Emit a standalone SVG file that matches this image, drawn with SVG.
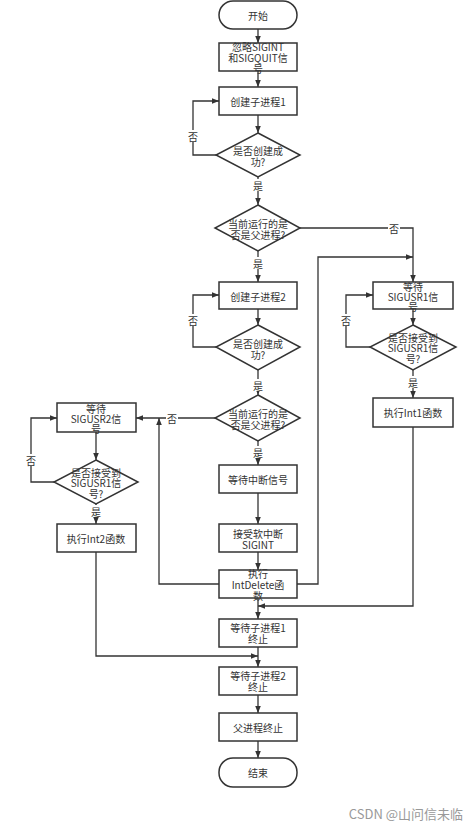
<svg xmlns="http://www.w3.org/2000/svg" width="474" height="827" viewBox="0 0 474 827">
<style>
.b{fill:#fff;stroke:#333;stroke-width:1.5}
.t{font-family:"Noto Sans CJK SC","Noto Sans",sans-serif;font-size:10px;fill:#333;text-anchor:middle;dominant-baseline:central}
.c{fill:none;stroke:#333;stroke-width:1.3}
.lb{fill:#fff}
</style>
<defs>
<marker id="ah" viewBox="0 0 10 10" refX="10" refY="5" markerWidth="7" markerHeight="7" orient="auto" markerUnits="userSpaceOnUse"><path d="M0,1 L10,5 L0,9 z" fill="#333"/></marker>
</defs>
<rect width="474" height="827" fill="#fff"/>
<g id="connectors">
<path class="c" d="M258,29 V43" marker-end="url(#ah)"/>
<path class="c" d="M258,71 V87" marker-end="url(#ah)"/>
<path class="c" d="M258,115 V133" marker-end="url(#ah)"/>
<path class="c" d="M216,155 H193 V101 H219" marker-end="url(#ah)"/>
<path class="c" d="M258,177 V205" marker-end="url(#ah)"/>
<path class="c" d="M300,228 H413 V282" marker-end="url(#ah)"/>
<path class="c" d="M258,251 V282" marker-end="url(#ah)"/>
<path class="c" d="M258,309 V325" marker-end="url(#ah)"/>
<path class="c" d="M216,347 H193 V295 H219" marker-end="url(#ah)"/>
<path class="c" d="M258,370 V395" marker-end="url(#ah)"/>
<path class="c" d="M215,418 H136" marker-end="url(#ah)"/>
<path class="c" d="M258,441 V465" marker-end="url(#ah)"/>
<path class="c" d="M258,493 V524" marker-end="url(#ah)"/>
<path class="c" d="M258,552 V570" marker-end="url(#ah)"/>
<path class="c" d="M219,584 H159 V418" marker-end="url(#ah)"/>
<path class="c" d="M297,584 H318 V257 H413" marker-end="url(#ah)"/>
<path class="c" d="M258,598 V619" marker-end="url(#ah)"/>
<path class="c" d="M258,647 V667" marker-end="url(#ah)"/>
<path class="c" d="M258,695 V713" marker-end="url(#ah)"/>
<path class="c" d="M258,741 V758" marker-end="url(#ah)"/>
<path class="c" d="M413,309 V325" marker-end="url(#ah)"/>
<path class="c" d="M370,347 H346 V295 H373" marker-end="url(#ah)"/>
<path class="c" d="M413,370 V398" marker-end="url(#ah)"/>
<path class="c" d="M413,427 V606 H258" marker-end="url(#ah)"/>
<path class="c" d="M96,432 V460" marker-end="url(#ah)"/>
<path class="c" d="M54,482 H31 V418 H57" marker-end="url(#ah)"/>
<path class="c" d="M96,504 V524" marker-end="url(#ah)"/>
<path class="c" d="M96,552 V656 H258" marker-end="url(#ah)"/>
<g id="labels">
<rect class="lb" x="187" y="130" width="12" height="12"/><text class="t" x="193" y="136">否</text>
<rect class="lb" x="252" y="179" width="12" height="12"/><text class="t" x="258" y="185">是</text>
<rect class="lb" x="388" y="222" width="12" height="12"/><text class="t" x="394" y="228">否</text>
<rect class="lb" x="252" y="257" width="12" height="12"/><text class="t" x="258" y="263">是</text>
<rect class="lb" x="187" y="314" width="12" height="12"/><text class="t" x="193" y="320">否</text>
<rect class="lb" x="252" y="379" width="12" height="12"/><text class="t" x="258" y="385">是</text>
<rect class="lb" x="166" y="412" width="12" height="12"/><text class="t" x="172" y="418">否</text>
<rect class="lb" x="252" y="446" width="12" height="12"/><text class="t" x="258" y="452">是</text>
<rect class="lb" x="340" y="314" width="12" height="12"/><text class="t" x="346" y="320">否</text>
<rect class="lb" x="407" y="376" width="12" height="12"/><text class="t" x="413" y="382">是</text>
<rect class="lb" x="25" y="454" width="12" height="12"/><text class="t" x="31" y="460">否</text>
<rect class="lb" x="90" y="505" width="12" height="12"/><text class="t" x="96" y="511">是</text>
</g>
</g>
<g id="start"><rect class="b" x="219" y="1" width="78" height="28" rx="14"/><text class="t" x="258" y="15">开始</text></g>
<g id="ignore"><rect class="b" x="219" y="43" width="78" height="28"/><text class="t" x="258" y="46">忽略SIGINT</text><text class="t" x="258" y="57">和SIGQUIT信</text><text class="t" x="258" y="68">号</text></g>
<g id="fork1"><rect class="b" x="219" y="87" width="78" height="28"/><text class="t" x="258" y="101">创建子进程1</text></g>
<g id="ok1"><polygon class="b" points="258,133 300,155 258,177 216,155"/><text class="t" x="258" y="150">是否创建成</text><text class="t" x="258" y="161">功?</text></g>
<g id="parent1"><polygon class="b" points="258,205 300,228 258,251 215,228"/><text class="t" x="258" y="223">当前运行的是</text><text class="t" x="258" y="234">否是父进程?</text></g>
<g id="fork2"><rect class="b" x="219" y="282" width="78" height="27"/><text class="t" x="258" y="296">创建子进程2</text></g>
<g id="ok2"><polygon class="b" points="258,325 300,347 258,370 216,347"/><text class="t" x="258" y="343">是否创建成</text><text class="t" x="258" y="354">功?</text></g>
<g id="parent2"><polygon class="b" points="258,395 300,418 258,441 215,418"/><text class="t" x="258" y="413">当前运行的是</text><text class="t" x="258" y="424">否是父进程?</text></g>
<g id="waitint"><rect class="b" x="219" y="465" width="78" height="28"/><text class="t" x="258" y="479">等待中断信号</text></g>
<g id="recvint"><rect class="b" x="219" y="524" width="78" height="28"/><text class="t" x="258" y="533">接受软中断</text><text class="t" x="258" y="544">SIGINT</text></g>
<g id="intdel"><rect class="b" x="219" y="570" width="78" height="28"/><text class="t" x="258" y="573">执行</text><text class="t" x="258" y="584">IntDelete函</text><text class="t" x="258" y="595">数</text></g>
<g id="wait1"><rect class="b" x="219" y="619" width="78" height="28"/><text class="t" x="258" y="627">等待子进程1</text><text class="t" x="258" y="638">终止</text></g>
<g id="wait2"><rect class="b" x="219" y="667" width="78" height="28"/><text class="t" x="258" y="675">等待子进程2</text><text class="t" x="258" y="686">终止</text></g>
<g id="pend"><rect class="b" x="219" y="713" width="78" height="28"/><text class="t" x="258" y="727">父进程终止</text></g>
<g id="end"><rect class="b" x="219" y="758" width="78" height="29" rx="14"/><text class="t" x="258" y="772">结束</text></g>
<g id="waitusr1"><rect class="b" x="373" y="282" width="80" height="27"/><text class="t" x="413" y="286">等待</text><text class="t" x="413" y="296">SIGUSR1信</text><text class="t" x="413" y="306">号</text></g>
<g id="gotusr1"><polygon class="b" points="413,325 456,347 413,370 370,347"/><text class="t" x="413" y="337">是否接受到</text><text class="t" x="413" y="347">SIGUSR1信</text><text class="t" x="413" y="358">号?</text></g>
<g id="int1"><rect class="b" x="373" y="398" width="80" height="29"/><text class="t" x="413" y="412">执行Int1函数</text></g>
<g id="waitusr2"><rect class="b" x="57" y="403" width="79" height="29"/><text class="t" x="96" y="408">等待</text><text class="t" x="96" y="418">SIGUSR2信</text><text class="t" x="96" y="428">号</text></g>
<g id="gotusr1b"><polygon class="b" points="96,460 138,482 96,504 54,482"/><text class="t" x="96" y="472">是否接受到</text><text class="t" x="96" y="482">SIGUSR1信</text><text class="t" x="96" y="493">号?</text></g>
<g id="int2"><rect class="b" x="57" y="524" width="79" height="28"/><text class="t" x="96" y="538">执行Int2函数</text></g>
<text x="463" y="813" font-family="Noto Sans CJK SC, sans-serif" font-size="13" fill="#999" text-anchor="end" dominant-baseline="central">CSDN @山问信未临</text>
</svg>
